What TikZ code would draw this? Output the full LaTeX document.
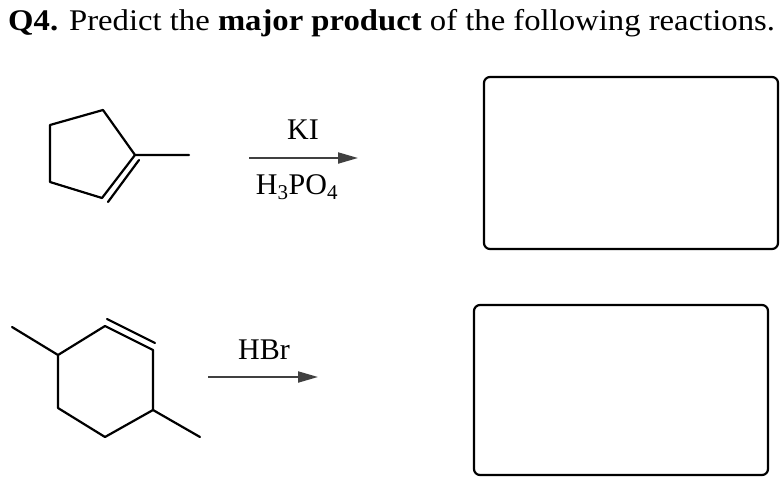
\documentclass[tikz,border=0pt]{standalone}
\usepackage{fontspec}
\setmainfont{Liberation Serif}
\usetikzlibrary{arrows.meta}
\begin{document}
\begin{tikzpicture}[x=1pt,y=-1pt,
  bond/.style={line width=2.2pt,line cap=round,line join=round},
  rxn/.style={line width=2pt,-{Triangle[length=20pt,width=11pt]},draw=black!75},
  lbl/.style={font=\fontsize{30}{34}\selectfont,inner sep=0pt},
  answer/.style={draw,line width=2.2pt,rounded corners=6pt}]
\useasboundingbox (0,0) rectangle (783,484);
\node[anchor=base west,inner sep=0pt,font=\fontsize{30}{34}\selectfont,xscale=1.09] (title) at (8,31)
  {\textbf{Q4.} Predict the \textbf{major product} of the following reactions.};
% cyclopentene
\coordinate (a1) at (103,110); \coordinate (a2) at (50,125); \coordinate (a3) at (50,182);
\coordinate (a4) at (102,198); \coordinate (a5) at (135,155); \coordinate (am) at (189,155);
\draw[bond] (a5)--(a1)--(a2)--(a3)--(a4)--(a5)--(am);
\draw[bond] (108,202)--(139,160);
% arrow 1
\coordinate (s1) at (249,158); \coordinate (e1) at (358,158);
\draw[rxn] (s1)--(e1);
\node[lbl] (ki) at (303,130) {KI};
\node[lbl] (hp) at (297,187) {H\textsubscript{3}PO\textsubscript{4}};
% cyclohexene
\coordinate (b1) at (105,326); \coordinate (b2) at (153,350); \coordinate (b3) at (153,410);
\coordinate (b4) at (105,437); \coordinate (b5) at (58,408); \coordinate (b6) at (58,355);
\coordinate (bm1) at (12,327); \coordinate (bm2) at (200,437);
\draw[bond] (b1)--(b2)--(b3)--(b4)--(b5)--(b6)--cycle;
\draw[bond] (b6)--(bm1); \draw[bond] (b3)--(bm2);
\draw[bond] (107,319)--(155,343);
% arrow 2
\coordinate (s2) at (208,377); \coordinate (e2) at (318,377);
\draw[rxn] (s2)--(e2);
\node[lbl] (hbr) at (264,350) {HBr};
% boxes
\node[answer,minimum width=294pt,minimum height=172pt] (box1) at (631,163) {};
\node[answer,minimum width=294pt,minimum height=170pt] (box2) at (621,390) {};
\end{tikzpicture}
\end{document}
